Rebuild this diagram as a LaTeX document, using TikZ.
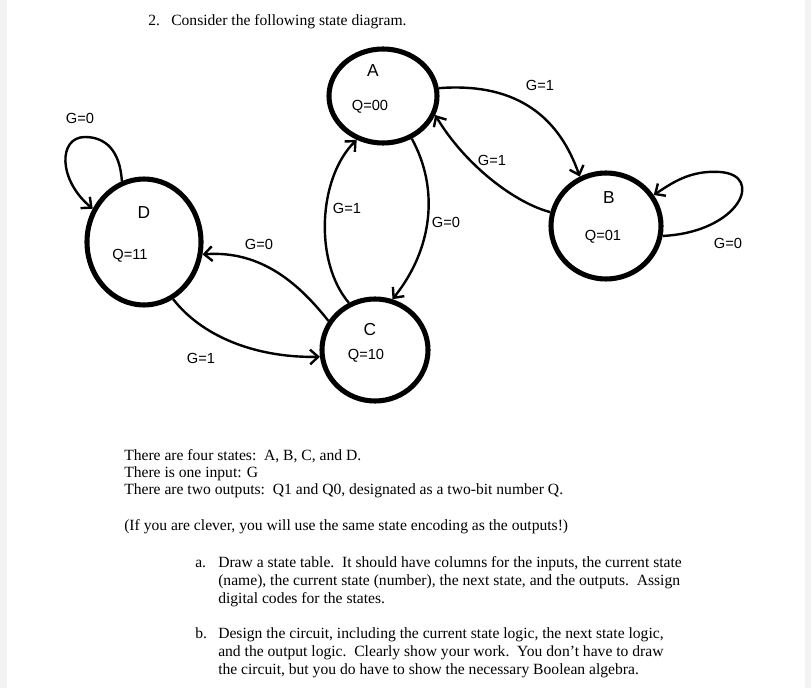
\documentclass[tikz,border=0pt]{standalone}
\usepackage{fontspec}
\setmainfont{Liberation Serif}
\newfontfamily\hand{Liberation Sans}
\usetikzlibrary{arrows.meta,shapes.geometric}
\definecolor{strip}{HTML}{F3F3F3}
\begin{document}
\begin{tikzpicture}[x=0.75pt,y=-0.75pt,
  state/.style={ellipse,draw,line width=3.8pt,inner sep=0pt},
  edge/.style={line width=1.8pt,-{Straight Barb[length=6pt,width=11pt,line width=1.8pt]}},
  lbl/.style={font=\hand\fontsize{11}{12}\selectfont,inner sep=0pt},
  big/.style={font=\hand\fontsize{13}{14}\selectfont,inner sep=0pt},
  txt/.style={anchor=base west,inner sep=0pt,font=\fontsize{11.7}{13}\selectfont}]
\useasboundingbox (0,0) rectangle (811,688);
\fill[strip] (0,0) rectangle (7,688);
\fill[strip] (805,0) rectangle (811,688);

% states
\node[state,minimum width=81pt,minimum height=70.5pt] (A) at (383,96) {};
\node[state,minimum width=85.5pt,minimum height=94.5pt] (D) at (144,242) {};
\node[state,minimum width=79.5pt,minimum height=76.5pt] (C) at (375,350) {};
\node[state,minimum width=82.5pt,minimum height=79.5pt] (B) at (606,226) {};

\node[big] (An) at (373,71) {A};
\node[lbl] (Aq) at (370,107) {Q=00};
\node[big] (Dn) at (144,213) {D};
\node[lbl] (Dq) at (130,256) {Q=11};
\node[big] (Cn) at (370,330) {C};
\node[lbl] (Cq) at (366,356) {Q=10};
\node[big] (Bn) at (609,198) {B};
\node[lbl] (Bq) at (603,237) {Q=01};

% transitions
\draw[edge] (A.8) .. controls (520,82) and (560,120) .. (B.118);
\draw[edge] (B.166) .. controls (515,203) and (465,165) .. (A.-20);
\draw[edge] (B.-10) .. controls (740,232) and (765,175) .. (720,172)
  .. controls (690,170) and (672,183) .. (B.33);
\draw[edge] (A.-56) .. controls (440,190) and (432,250) .. (C.71);
\draw[edge] (C.119) .. controls (314,262) and (318,178) .. (A.-121);
\draw[edge] (C.148) .. controls (300,285) and (262,250) .. (D.-12);
\draw[edge] (D.-63) .. controls (205,340) and (262,358) .. (C.187);
\draw[edge] (D.110) .. controls (120,150) and (105,137) .. (85,137)
  .. controls (58,137) and (58,180) .. (D.147);

% transition labels
\node[lbl] (l1) at (80,118) {G=0};
\node[lbl] (l2) at (540,85) {G=1};
\node[lbl] (l3) at (492,160) {G=1};
\node[lbl] (l4) at (728,243) {G=0};
\node[lbl] (l5) at (446,222) {G=0};
\node[lbl] (l6) at (347,208) {G=1};
\node[lbl] (l7) at (259,244) {G=0};
\node[lbl] (l8) at (201,358) {G=1};

% text
\node[txt] (t0a) at (148,26) {2.};
\node[txt] (t0b) at (171,26) {Consider the following state diagram.};
\node[txt] (t1) at (124,460) {There are four states:\ \ A, B, C, and D.};
\node[txt] (t2) at (124,477) {There is one input: G};
\node[txt] (t3) at (124,494.5) {There are two outputs:\ \ Q1 and Q0, designated as a two-bit number Q.};
\node[txt] (t4) at (124,530) {(If you are clever, you will use the same state encoding as the outputs!)};
\node[txt] (ta) at (195,567) {a.};
\node[txt] (ta1) at (218,567) {Draw a state table.\ \ It should have columns for the inputs, the current state};
\node[txt] (ta2) at (218,585) {(name), the current state (number), the next state, and the outputs.\ \ Assign};
\node[txt] (ta3) at (218,603) {digital codes for the states.};
\node[txt] (tb) at (195,638) {b.};
\node[txt] (tb1) at (218,638) {Design the circuit, including the current state logic, the next state logic,};
\node[txt] (tb2) at (218,656) {and the output logic.\ \ Clearly show your work.\ \ You don’t have to draw};
\node[txt] (tb3) at (218,674) {the circuit, but you do have to show the necessary Boolean algebra.};
\end{tikzpicture}
\end{document}
